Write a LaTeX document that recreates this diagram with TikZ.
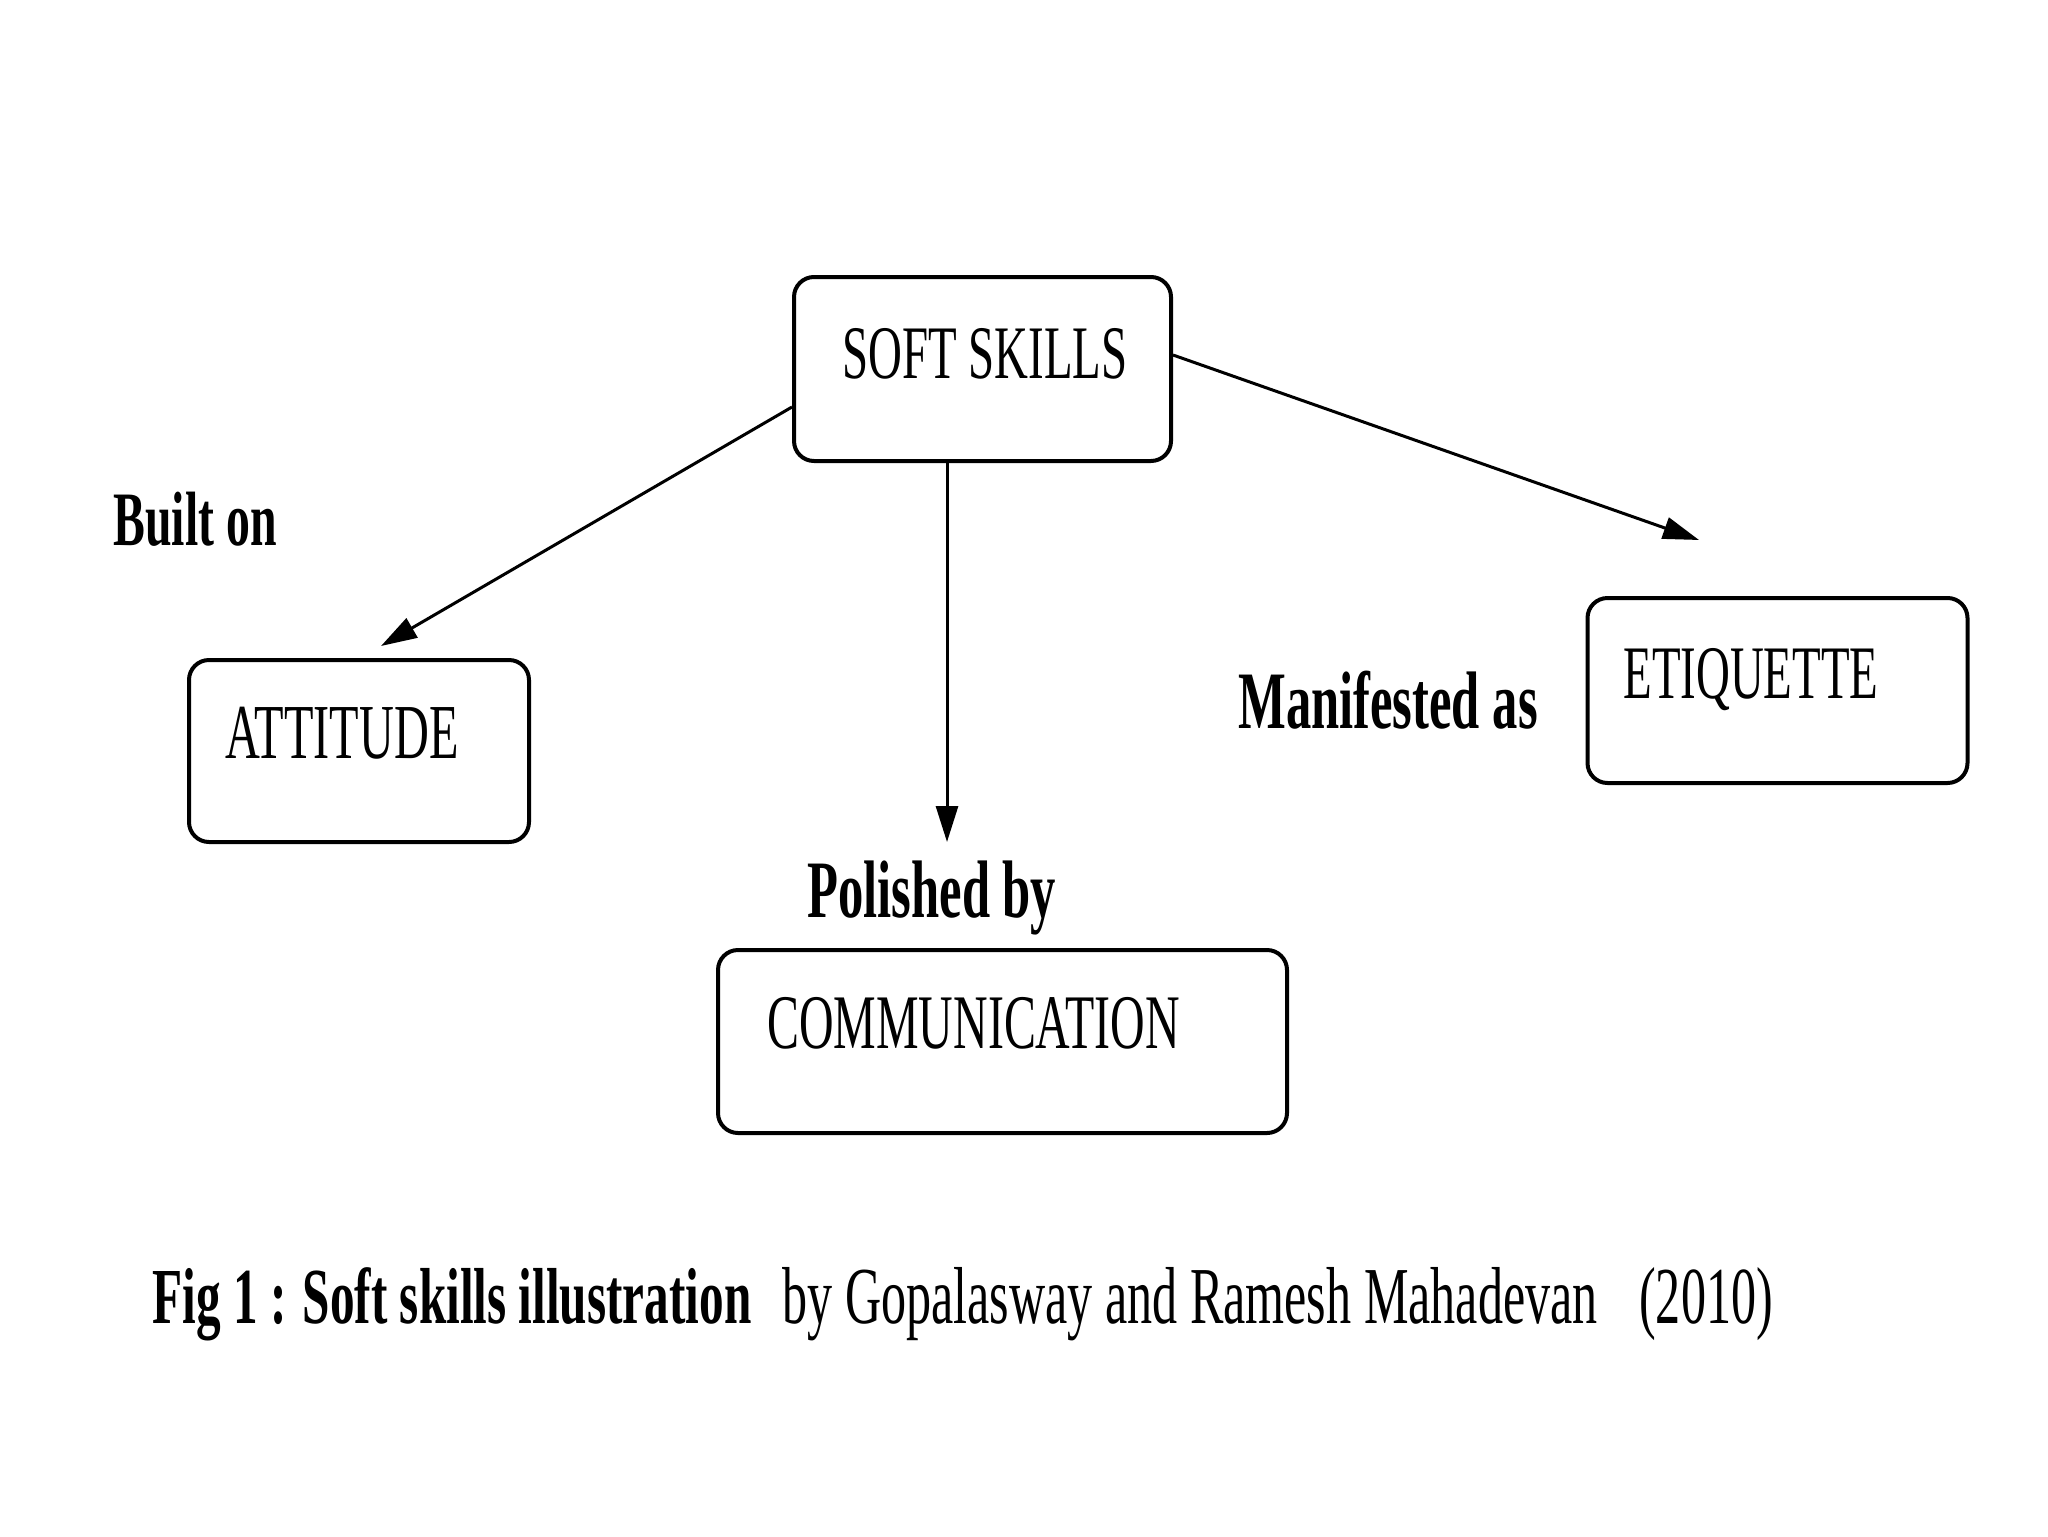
\documentclass[tikz,border=0pt]{standalone}
\usepackage{fontspec}
\setmainfont[FakeStretch=0.62]{Liberation Serif}
\usetikzlibrary{arrows.meta,calc}
\begin{document}
\begin{tikzpicture}[x=0.5pt,y=-0.5pt,
  skbox/.style={draw=black,line width=2pt,rounded corners=10pt,inner sep=0pt,fill=white},
  txt/.style={inner sep=0pt,anchor=base west,font=\fontsize{37.8}{45}\selectfont},
  btxt/.style={inner sep=0pt,anchor=base west,font=\fontsize{38.5}{45}\selectfont\bfseries},
  captxt/.style={inner sep=0pt,anchor=base west,font=\fontsize{40.4}{48}\selectfont},
  arr/.style={line width=1.5pt,-{Triangle[length=18pt,width=11pt]}}]
\useasboundingbox[fill=white] (0,0) rectangle (2048,1536);
% boxes
\node[skbox,minimum width=188.5pt,minimum height=92pt] (sk) at (982.5,369) {};
\node[skbox,minimum width=170pt,minimum height=91pt] (att) at (359,751) {};
\node[skbox,minimum width=190pt,minimum height=92.5pt] (eti) at (1777.5,690.5) {};
\node[skbox,minimum width=284.5pt,minimum height=91.5pt] (com) at (1002.5,1041.5) {};
% box texts
\node[txt] (tsk) at (842,378) {SOFT SKILLS};
\node[txt,font=\fontsize{38.9}{45}\selectfont] (tatt) at (225,758) {ATTITUDE};
\node[txt] (teti) at (1623,698) {ETIQUETTE};
\node[txt,font=\fontsize{38.6}{45}\selectfont] (tcom) at (767,1048) {COMMUNICATION};
% labels
\node[btxt] (lbuilt) at (113,545) {Built on};
\node[btxt,font=\fontsize{40.8}{45}\selectfont\bfseries] (lman) at (1238,728) {Manifested as};
\node[btxt,font=\fontsize{40.8}{45}\selectfont\bfseries] (lpol) at (807,917) {Polished by};
% caption
\node[captxt] (caption) at (152,1323) {{\fontsize{39.7}{48}\selectfont\bfseries Fig 1 : Soft skills illustration}\ \ \hspace{3pt}by Gopalasway and Ramesh Mahadevan \ \ \hspace{2pt}(2010)};
% arrow ends
\coordinate (tipatt) at (381,646);
\coordinate (tipcom) at (947,842);
\coordinate (tipeti) at (1699,540);
% arrows
\draw[arr] ([yshift=-19pt]sk.west) -- (tipatt);
\draw[arr] ([xshift=-17.75pt]sk.south) -- (tipcom);
\draw[arr] ([yshift=7pt]sk.east) -- (tipeti);
\end{tikzpicture}
\end{document}
